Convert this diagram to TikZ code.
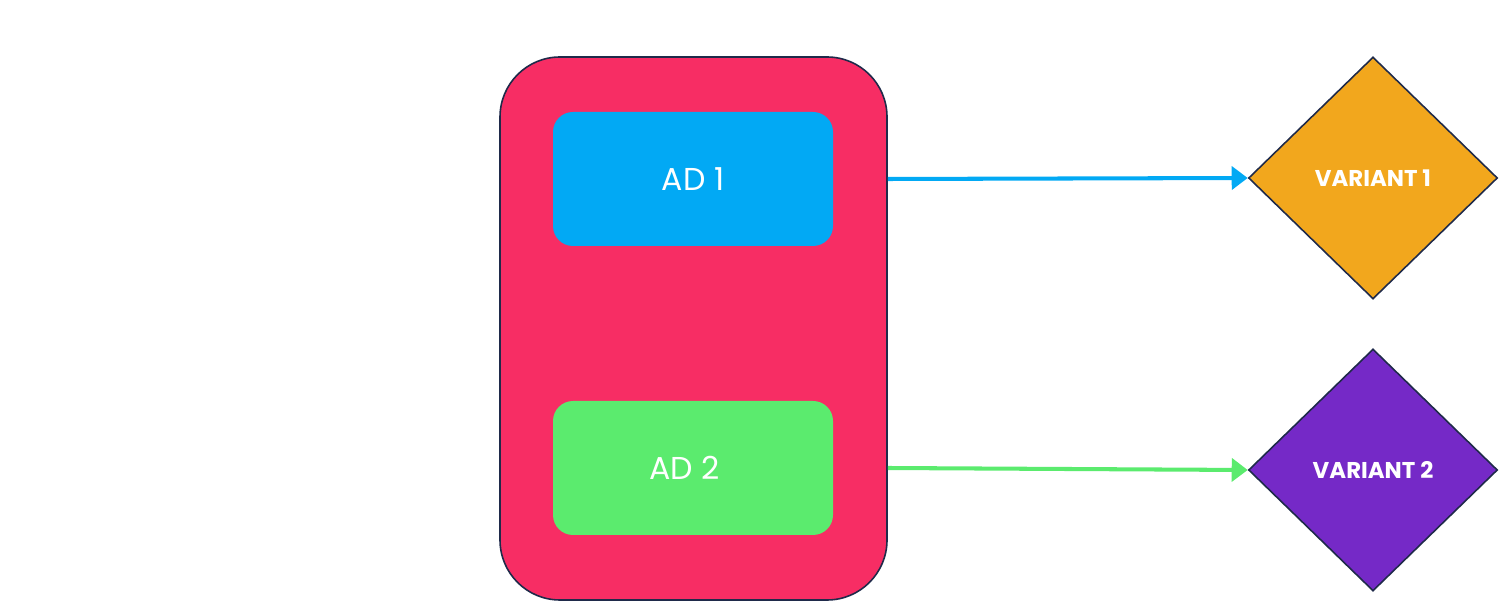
\documentclass[tikz,border=0pt]{standalone}
\usepackage{fontspec}
\setmainfont{Poppins}
\usepackage{tikz}
\usetikzlibrary{shapes.geometric,arrows.meta}
\definecolor{adred}{HTML}{F72D64}
\definecolor{adblue}{HTML}{02A9F4}
\definecolor{adgreen}{HTML}{5BEB6E}
\definecolor{varorange}{HTML}{F2A71D}
\definecolor{varpurple}{HTML}{7529C7}
\definecolor{edge}{HTML}{1F2A4A}

\begin{document}
\begin{tikzpicture}
    \tikzset{adbox/.style={rounded corners=0.4cm,minimum width=5.6cm,minimum height=2.68cm,
        text=white,font={\fontsize{18pt}{20pt}\selectfont}},
      variant/.style={diamond,draw=edge,line width=0.9pt,minimum width=4.98cm,minimum height=4.84cm,
        inner sep=0pt,text=white,font={\fontsize{13pt}{15pt}\selectfont\bfseries}},
      link/.style={line width=2.3pt,-{Triangle[length=0.32cm,width=0.46cm]}}}
    \useasboundingbox (0,0) rectangle (30,12.04);
    % outer phone box
    \node[draw=edge,line width=0.9pt,fill=adred,rounded corners=1.2cm,
      minimum width=7.74cm,minimum height=10.86cm] (phone) at (13.87,5.47) {};
    \node[adbox,fill=adblue] (ad1) at (13.86,8.46) {AD 1};
    \node[adbox,fill=adgreen] (ad2) at (13.86,2.68) {AD 2\kern0.35cm};
    % variants
    \node[variant,fill=varorange] (var1) at (27.46,8.48) {VARIANT 1};
    \node[variant,fill=varpurple] (var2) at (27.46,2.64) {VARIANT 2};
    \draw[link,adblue] (phone.east |- ad1) -- (var1.west);
    \draw[link,adgreen] (phone.east |- ad2) -- (var2.west);
\end{tikzpicture}
\end{document}
